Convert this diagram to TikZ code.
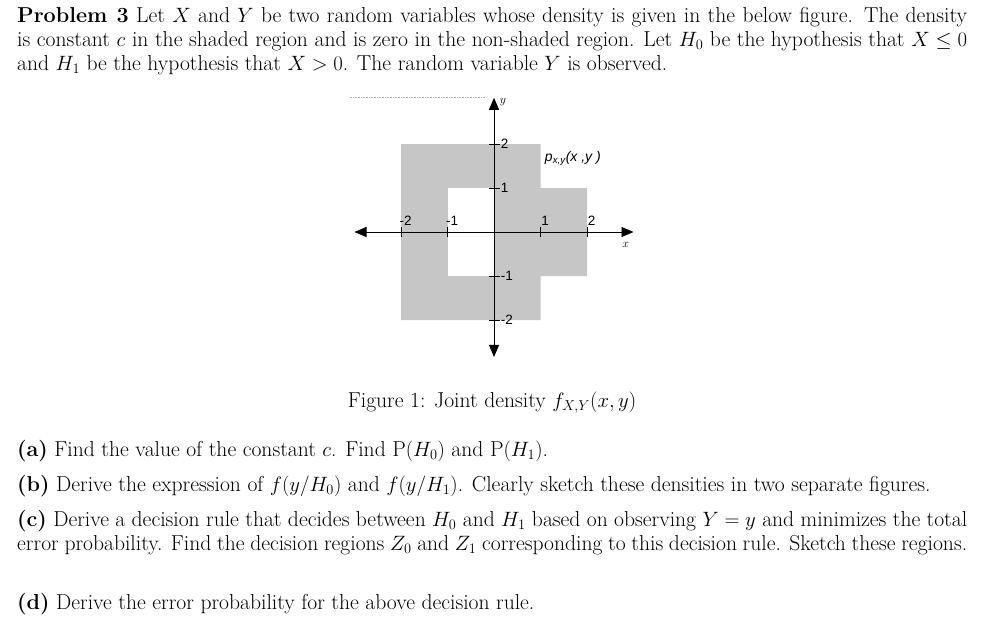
\documentclass[tikz,border=0pt]{standalone}
\usepackage{amsmath}
\usepackage{amssymb}
\usepackage{fontspec}
\newfontfamily\figsans{Liberation Sans}
\usetikzlibrary{arrows.meta}

\tikzset{
  para/.style={anchor=north west, inner sep=0pt, text width=950pt, align=justify,
    font=\fontsize{21.6}{24}\selectfont},
  axis/.style={line width=0.9pt, {Triangle[length=12pt,width=10pt]}-{Triangle[length=12pt,width=10pt]}},
  tick/.style={line width=0.8pt},
  ticklab/.style={font=\figsans\fontsize{13.5}{13.5}\selectfont, inner sep=1pt}
}

\begin{document}
\begin{tikzpicture}[x=1pt, y=-1pt]
\useasboundingbox (0,0) rectangle (984,619);

% the text of the problem
\node[para] (intro) at (17,7) {\textbf{Problem 3} Let $X$ and $Y$ be two random variables whose density is given in the below figure. The density is constant $c$ in the shaded region and is zero in the non-shaded region. Let $H_0$ be the hypothesis that $X\leq 0$ and $H_1$ be the hypothesis that $X>0$. The random variable $Y$ is observed.};

% the figure
\begin{scope}[shift={(494pt,-232pt)}, x=46.5pt, y=44pt]
  \fill[gray!45] (-2,-2) -- (1,-2) -- (1,-1) -- (2,-1) -- (2,1) -- (1,1) -- (1,2) -- (-2,2) -- cycle;
  \fill[white] (-1,-1) rectangle (0,1);
  \draw[gray!60, densely dotted, line width=0.6pt] (-3.1,3.07) -- (-0.2,3.07);
  \coordinate (xl) at (-3.0,0);
  \coordinate (xr) at (3.0,0);
  \coordinate (yb) at (0,-2.84);
  \coordinate (yt) at (0,3.05);
  \draw[axis] (xl) -- (xr);
  \draw[axis] (yb) -- (yt);
  % ticks
  \foreach \t in {-2,-1,1,2} {
    \draw[tick] (\t,-0.12) -- (\t,0.12);
    \node[ticklab, anchor=south] (xt\t) at (\t+0.1,0.12) {\t};
    \draw[tick] (-0.1,\t) -- (0.12,\t);
    \node[ticklab, anchor=west] (yt\t) at (0.12,\t) {\t};
  }
  \node[font=\fontsize{13}{13}\selectfont, anchor=west] (ylab) at (0.05,2.95) {$y$};
  \node[font=\fontsize{13}{13}\selectfont] (xlab) at (2.83,-0.3) {$x$};
  \node[font=\figsans\itshape\fontsize{14}{14}\selectfont, anchor=west] (pxy) at (1.02,1.67) {p\textsubscript{x,y}(x ,y )};
\end{scope}

\node[font=\fontsize{21.6}{24}\selectfont, anchor=base] (cap) at (492,407) {Figure 1: Joint density $f_{X,Y}(x,y)$};

% the questions
\node[para] (qa) at (17,440) {\textbf{(a)} Find the value of the constant $c$. Find $\mathrm{P}(H_0)$ and $\mathrm{P}(H_1)$.};
\node[para] (qb) at (17,475) {\textbf{(b)} Derive the expression of $f(y/H_0)$ and $f(y/H_1)$. Clearly sketch these densities in two separate figures.};
\node[para] (qc) at (17,510) {\textbf{(c)} Derive a decision rule that decides between $H_0$ and $H_1$ based on observing $Y=y$ and minimizes the total error probability. Find the decision regions $Z_0$ and $Z_1$ corresponding to this decision rule. Sketch these regions.};
\node[para] (qd) at (17,593) {\textbf{(d)} Derive the error probability for the above decision rule.};
\end{tikzpicture}
\end{document}
